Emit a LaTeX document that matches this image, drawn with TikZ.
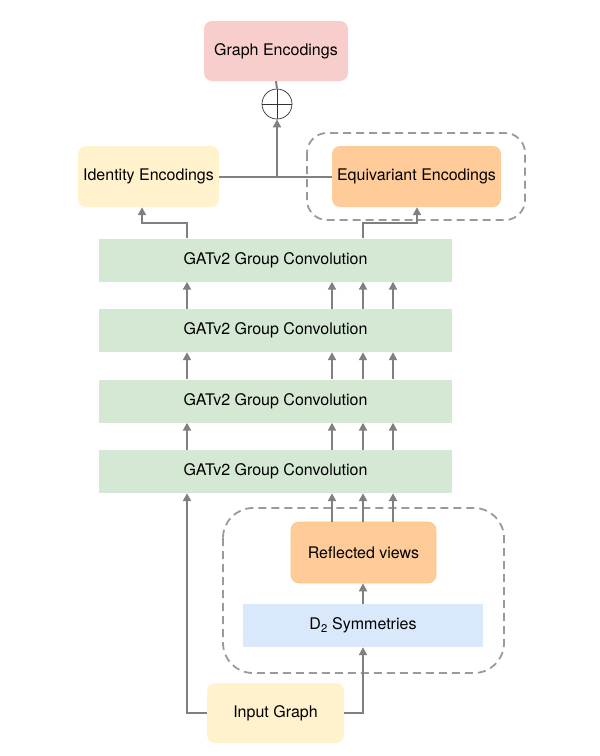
\documentclass[tikz,border=0pt]{standalone}
\usepackage{fontspec}
\setmainfont{TeX Gyre Heros}
\usetikzlibrary{arrows.meta}

\definecolor{pinkfill}{HTML}{F8CECC}
\definecolor{yellowfill}{HTML}{FFF2CC}
\definecolor{orangefill}{HTML}{FFCC99}
\definecolor{greenfill}{HTML}{D5E8D4}
\definecolor{bluefill}{HTML}{DAE8FC}
\definecolor{linegray}{HTML}{808080}
\definecolor{dashgray}{HTML}{9A9A9A}

\begin{document}
\begin{tikzpicture}[
    x=1pt, y=-1pt,
    font=\fontsize{16}{19}\selectfont,
    box/.style={
        rectangle,
        inner sep=0pt,
        align=center
    },
    roundbox/.style={
        box,
        rounded corners=8pt
    },
    convbox/.style={
        box,
        fill=greenfill,
        minimum width=353pt,
        minimum height=43pt
    },
    line/.style={
        draw=linegray,
        line width=2pt
    },
    arr/.style={
        line,
        -{Triangle[length=8pt,width=8pt]}
    },
    group/.style={
        draw=dashgray,
        line width=1.8pt,
        dash pattern=on 8pt off 5pt,
        rounded corners=24pt
    }
]

    \useasboundingbox (0,0) rectangle (600,756);

    % Output
    \node[roundbox, fill=pinkfill, minimum width=144pt, minimum height=60pt] (genc) at (276,51) {Graph Encodings};
    \node[circle, draw=black!80, line width=0.7pt, minimum size=30pt, inner sep=0pt] (plus) at (277,104) {};
    \draw[black!80, line width=0.7pt] (plus.north) -- (plus.south);
    \draw[black!80, line width=0.7pt] (plus.west) -- (plus.east);

    % Encodings
    \node[roundbox, fill=yellowfill, minimum width=141pt, minimum height=61pt] (ienc) at (148.5,176.5) {Identity Encodings};
    \node[roundbox, fill=orangefill, minimum width=169pt, minimum height=61pt] (eenc) at (416.5,176.5) {Equivariant Encodings};
    \draw[group, rounded corners=20pt] (307,133) rectangle (525,220);

    % Convolutions
    \node[convbox] (conv1) at (275.5,471.5) {GATv2 Group Convolution};
    \node[convbox] (conv2) at (275.5,401) {GATv2 Group Convolution};
    \node[convbox] (conv3) at (275.5,330.5) {GATv2 Group Convolution};
    \node[convbox] (conv4) at (275.5,260) {GATv2 Group Convolution};

    % Symmetries
    \node[roundbox, fill=orangefill, draw=orangefill!85!orange, line width=0.6pt, minimum width=145pt, minimum height=61pt] (refl) at (363.5,552.5) {Reflected views};
    \node[box, fill=bluefill, minimum width=240pt, minimum height=43pt] (sym) at (363,625.5) {D\textsubscript{2} Symmetries};
    \draw[group, rounded corners=30pt] (223,508) rectangle (504,673);

    % Input
    \node[roundbox, fill=yellowfill, minimum width=137pt, minimum height=60pt] (input) at (275.5,713) {Input Graph};

    % Edges
    \coordinate (join) at (277,176.5);
    \draw[line] (ienc.east) -- (eenc.west);
    \draw[arr] (join) -- (plus.south);
    \draw[line] (plus.north) -- (genc.south);

    \draw[arr] (conv4.north -| 187,0) |- (142,222.5) -- (ienc.south -| 142,0);
    \draw[arr] (conv4.north -| 363,0) |- (417,222.5) -- (eenc.south -| 417,0);

    \foreach \i/\j in {1/2,2/3,3/4}
        \foreach \x in {187,332,363,393}
            \draw[arr] (conv\i.north -| \x,0) -- (conv\j.south -| \x,0);

    \foreach \x in {332,363,393}
        \draw[arr] (refl.north -| \x,0) -- (conv1.south -| \x,0);

    \draw[arr] (sym.north) -- (refl.south -| sym.north);
    \draw[arr] (input.west) -| (conv1.south -| 187,0);
    \draw[arr] (input.east) -| (sym.south);

\end{tikzpicture}
\end{document}
